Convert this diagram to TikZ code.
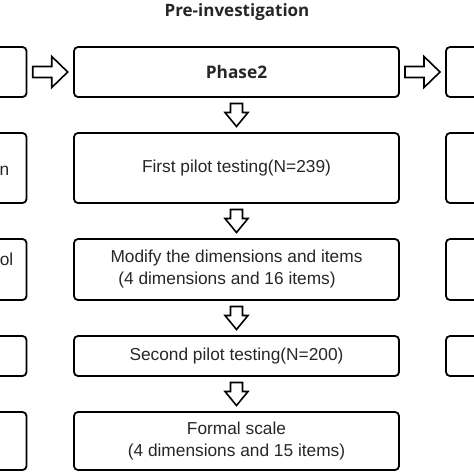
\documentclass[tikz,border=0pt]{standalone}
\usepackage{fontspec}
\setmainfont{Liberation Sans}
\newfontfamily\headfont{Open Sans}
\usetikzlibrary{calc}
\definecolor{txt}{HTML}{262626}
\tikzset{
  box/.style={draw=black, line width=1.8pt, rounded corners=4pt, inner sep=0pt,
    text=txt, align=center, font=\fontsize{17.3}{22}\selectfont},
  cliptext/.style={anchor=base east, inner sep=0pt, text=txt, font=\fontsize{17.3}{22}\selectfont},
  blockarrow/.style={draw=black, line width=1.6pt, fill=white, line join=miter},
  rarrow/.pic={\draw[blockarrow] (-17.5,-5.5) -- (1.5,-5.5) -- (1.5,-15.5) -- (17.5,0)
     -- (1.5,15.5) -- (1.5,5.5) -- (-17.5,5.5) -- cycle;},
  darrow/.pic={\draw[blockarrow] (-6,-11.5) -- (6,-11.5) -- (6,-2.5) -- (11.5,-2.5)
     -- (0,11.5) -- (-11.5,-2.5) -- (-6,-2.5) -- cycle;}
}
\begin{document}
\begin{tikzpicture}[x=1pt,y=-1pt]
\useasboundingbox (0,0) rectangle (474,474);
\clip (0,0) rectangle (474,474);

\node[anchor=base, inner sep=0pt, text=txt, font=\headfont\bfseries\fontsize{17}{20}\selectfont] (title) at (237,16) {Pre-investigation};

% central column
\node[box, minimum width=325pt, minimum height=50pt] (p1) at (236.5,72) {\headfont\bfseries Phase2};
\node[box, minimum width=325pt, minimum height=70pt] (p2) at (236.5,168) {First pilot testing(N=239)};
\node[box, minimum width=325pt, minimum height=61pt] (p3) at (236.5,269.5) {Modify the dimensions and items\\(4 dimensions and 16 items)\hspace*{19pt}};
\node[box, minimum width=325pt, minimum height=40pt] (p4) at (236.5,356) {Second pilot testing(N=200)};
\node[box, minimum width=325pt, minimum height=58pt] (p5) at (236.5,441) {Formal scale\\(4 dimensions and 15 items)};

% left column (cut off)
\node[box, minimum width=200pt, minimum height=50pt] (l1) at (-73.5,72) {};
\node[box, minimum width=200pt, minimum height=70pt] (l2) at (-73.5,168) {};
\node[box, minimum width=200pt, minimum height=61pt] (l3) at (-73.5,269.5) {};
\node[box, minimum width=200pt, minimum height=40pt] (l4) at (-73.5,356) {};
\node[box, minimum width=200pt, minimum height=58pt] (l5) at (-73.5,441) {};
\node[cliptext] (lt2) at (9.5,175) {n};
\node[cliptext] (lt3) at (13.5,265.5) {ol};

% right column (cut off)
\node[box, minimum width=200pt, minimum height=50pt] (r1) at (546,72) {};
\node[box, minimum width=200pt, minimum height=70pt] (r2) at (546,168) {};
\node[box, minimum width=200pt, minimum height=61pt] (r3) at (546,269.5) {};
\node[box, minimum width=200pt, minimum height=40pt] (r4) at (546,356) {};

% arrows
\pic at ($(l1.east)!0.5!(p1.west)$) {rarrow};
\pic at ($(p1.east)!0.5!(r1.west)$) {rarrow};
\pic at ($(p1.south)!0.5!(p2.north)$) {darrow};
\pic at ($(p2.south)!0.5!(p3.north)$) {darrow};
\pic at ($(p3.south)!0.5!(p4.north)$) {darrow};
\pic at ($(p4.south)!0.5!(p5.north)$) {darrow};
\end{tikzpicture}
\end{document}
